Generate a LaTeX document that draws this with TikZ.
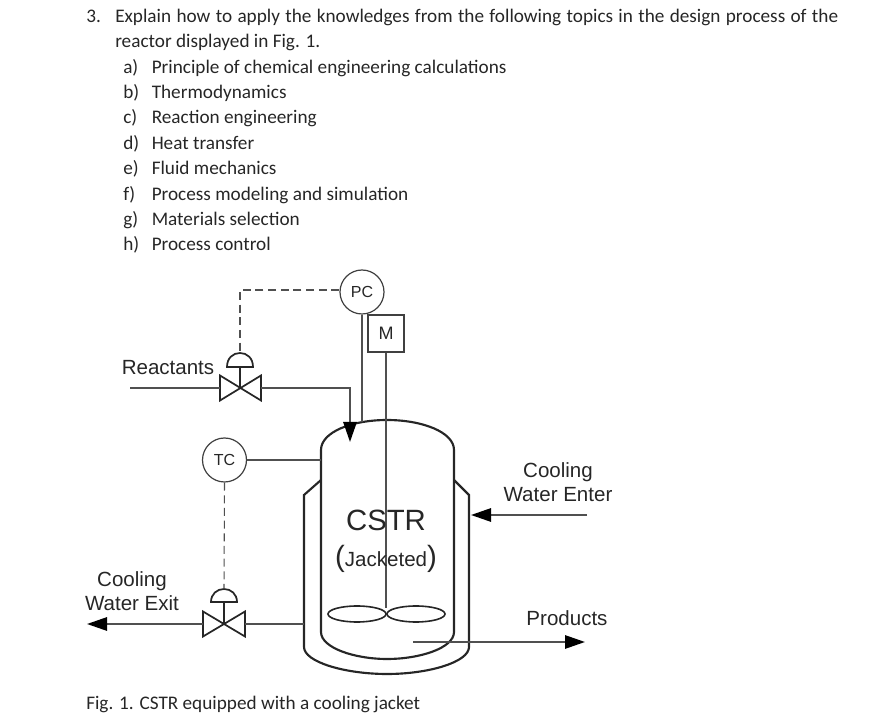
\documentclass[tikz,border=0pt]{standalone}
\usepackage{fontspec}
\setmainfont{Carlito}
\newfontfamily\figfont{Liberation Sans}
\usetikzlibrary{arrows.meta}
\definecolor{txtgray}{HTML}{262626}
\definecolor{pipegray}{HTML}{505050}
\tikzset{
  qtext/.style={anchor=base west,inner sep=0pt,text=txtgray,font=\fontsize{14.42pt}{17pt}\selectfont},
  figtext/.style={inner sep=0pt,text=txtgray,align=center,font=\figfont\fontsize{15.4pt}{18pt}\selectfont},
  pipe/.style={draw=pipegray,line width=1.4pt},
  signal/.style={draw=pipegray,line width=1pt,dash pattern=on 6pt off 3.5pt},
  wall/.style={draw=black!85,line width=1.6pt},
  valve/.style={draw=black!85,line width=1.3pt,line join=miter},
  bubble/.style={draw=black!75,circle,line width=0.9pt,minimum size=33pt,inner sep=0pt,text=txtgray,font=\figfont\fontsize{12pt}{14pt}\selectfont},
  headtip/.style={-{Triangle[length=15pt,width=10pt,black]}}
}
\begin{document}
\begin{tikzpicture}[x=0.75pt,y=0.75pt,yscale=-1,xscale=1]
\useasboundingbox (0,0) rectangle (869,716);

% Question text
\node (qnum) [qtext] at (86,22.5) {3.};
\node (qone) [qtext] at (115,22.5) {\makebox[542.25pt][s]{Explain how to apply the knowledges from the following topics in the design process of the}};
\node (qtwo) [qtext] at (115,47.5) {reactor displayed in Fig. 1.};
\node (la) [qtext] at (123,73.5) {a)};
\node (ta) [qtext] at (151.5,73.5) {Principle of chemical engineering calculations};
\node (lb) [qtext] at (123,98.5) {b)};
\node (tb) [qtext] at (151.5,98.5) {Thermodynamics};
\node (lc) [qtext] at (123,123.5) {c)};
\node (tc1) [qtext] at (151.5,123.5) {Reaction engineering};
\node (ld) [qtext] at (123,149.5) {d)};
\node (td) [qtext] at (151.5,149.5) {Heat transfer};
\node (le) [qtext] at (123,174.5) {e)};
\node (te) [qtext] at (151.5,174.5) {Fluid mechanics};
\node (lf) [qtext] at (123,200.5) {f)};
\node (tf) [qtext] at (151.5,200.5) {Process modeling and simulation};
\node (lg) [qtext] at (123,225.5) {g)};
\node (tg) [qtext] at (151.5,225.5) {Materials selection};
\node (lh) [qtext] at (123,250.5) {h)};
\node (th) [qtext] at (151.5,250.5) {Process control};
\node (cap) [qtext] at (86,709.5) {Fig. 1. CSTR equipped with a cooling jacket};

%Shape: Vessel
\draw [wall] (321,450) .. controls (321,432) and (352,420) .. (387,420) .. controls (422,420) and (454,432) .. (454,450) -- (454,632) .. controls (454,648) and (420,659) .. (387,659) .. controls (355,659) and (321,648) .. (321,632) -- cycle ;
%Shape: Jacket
\draw [wall] (321,480) -- (304,495) -- (304,647) .. controls (304,662) and (345,674) .. (387,674) .. controls (429,674) and (469,662) .. (469,647) -- (469,495) -- (454,480) ;
%Shape: Impeller
\draw [wall,line width=1.2pt] (357,614) ellipse (29 and 8) ;
\draw [wall,line width=1.2pt] (416,614) ellipse (29 and 8) ;

% Instruments
\node (pc) [bubble] at (362,292) {PC};
\node (tc) [bubble] at (224.5,460) {TC};
\node (m) [draw=black!75,line width=0.9pt,minimum width=27pt,minimum height=27.75pt,inner sep=0pt,text=txtgray,font=\figfont\fontsize{13.5pt}{15pt}\selectfont] at (386,333.5) {M};

%Shape: Valve reactants
\coordinate (vaone) at (240,388);
\coordinate (vaoneleft) at (220,388);
\coordinate (vaoneright) at (261,388);
\coordinate (domeone) at (240,353);
\draw [valve] (220,375.5) -- (220,400.5) -- (261,375.5) -- (261,400.5) -- cycle ;
\draw [valve] (vaone) -- (240,367) ;
\draw [valve] (227,367) .. controls (227,358) and (233,353) .. (domeone) .. controls (247,353) and (253,358) .. (253,367) -- cycle ;

%Shape: Valve cooling water
\coordinate (vatwo) at (224,624);
\coordinate (vatwoleft) at (203,624);
\coordinate (vatworight) at (245,624);
\coordinate (dometwo) at (224,589);
\draw [valve] (203,611.5) -- (203,636.5) -- (245,611.5) -- (245,636.5) -- cycle ;
\draw [valve] (vatwo) -- (224,602) ;
\draw [valve] (211,602) .. controls (211,594) and (217,589) .. (dometwo) .. controls (231,589) and (237,594) .. (237,602) -- cycle ;

% Connector ends
\coordinate (feedin) at (130,388);
\coordinate (feedtip) at (350,442);
\coordinate (pcdown) at (362,422);
\coordinate (shaftend) at (386,608);
\coordinate (tcin) at (321,460);
\coordinate (exitin) at (304,624);
\coordinate (exittip) at (87,624);
\coordinate (enterfrom) at (587,515);
\coordinate (entertip) at (471,515);
\coordinate (prodfrom) at (413,642);
\coordinate (prodtip) at (585,642);
\coordinate (signalcorner) at (240,290);

%Straight Lines
\draw [pipe] (feedin) -- (vaoneleft) ;
\draw [pipe,headtip] (vaoneright) -| (feedtip) ;
\draw [pipe] (pc.south) -- (pcdown) ;
\draw [pipe,line width=1pt] (m.south) -- (shaftend) ;
\draw [pipe] (tc.east) -- (tcin) ;
\draw [pipe] (exitin) -- (vatworight) ;
\draw [pipe,headtip] (vatwoleft) -- (exittip) ;
\draw [pipe,headtip] (enterfrom) -- (entertip) ;
\draw [pipe,headtip] (prodfrom) -- (prodtip) ;
\draw [signal] (pc.west |- signalcorner) -- (signalcorner) -- (domeone) ;
\draw [signal,line width=0.8pt] (tc.south) -- (dometwo) ;

% Text Node
\node (reactants) [figtext] at (168,368) {Reactants};
\node (exitlabel) [figtext] at (132,591) {Cooling\\Water Exit};
\node (enterlabel) [figtext] at (558,482) {Cooling\\Water Enter};
\node (products) [figtext] at (567,618) {Products};
\node (cstr) [figtext,font=\figfont\fontsize{22pt}{24pt}\selectfont] at (386,520) {CSTR};
\node (jacketed) [figtext] at (386,559) {{\fontsize{22pt}{24pt}\selectfont(}Jacketed{\fontsize{22pt}{24pt}\selectfont)}};
\end{tikzpicture}
\end{document}
